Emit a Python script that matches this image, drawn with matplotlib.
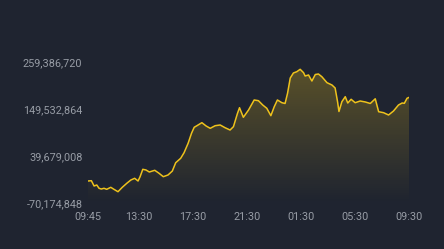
import numpy as np
import matplotlib
matplotlib.use('Agg')
import matplotlib.pyplot as plt
from matplotlib.colors import LinearSegmentedColormap

# minutes since 09:45 and value (millions)
minutes = [0, 15, 27, 39, 49, 59, 71, 83, 101, 115, 133, 152, 172, 190, 207,
           222, 231, 243, 257, 272, 296, 315, 334, 355, 374, 389, 411, 426,
           444, 459, 471, 483, 505, 524, 542, 564, 586, 608, 630, 645, 663,
           672, 689, 712, 737, 756, 775, 793, 811, 826, 840, 860, 874, 885,
           897, 911, 926, 941, 956, 963, 978, 993, 1008, 1022, 1037, 1060,
           1082, 1096, 1107, 1113, 1126, 1141, 1152, 1167, 1185, 1207, 1230,
           1252, 1274, 1289, 1311, 1333, 1355, 1377, 1393, 1403, 1415, 1425]
values_m = [-17.9, -17.2, -29.6, -27.3, -35.0, -36.7, -35.0, -37.4, -32.7,
            -37.4, -43.0, -32.7, -23.3, -15.6, -11.6, -17.9, -7.8, 9.5, 7.9,
            3.2, 7.2, 0.2, -7.8, -3.8, 5.5, 25.0, 35.3, 48.4, 70.5, 93.9,
            108.0, 111.7, 118.8, 111.0, 105.6, 111.7, 113.4, 107.0, 101.6,
            109.4, 140.8, 153.9, 131.4, 148.5, 172.0, 170.3, 160.2, 152.5,
            135.2, 156.3, 172.0, 165.6, 163.8, 187.7, 223.5, 235.3, 238.3,
            243.9, 236.0, 228.2, 230.6, 216.5, 231.7, 232.9, 226.6, 212.5,
            207.1, 200.1, 167.3, 145.0, 168.0, 179.7, 164.9, 173.6, 165.6,
            169.6, 167.3, 163.8, 174.8, 144.5, 142.2, 136.8, 146.2, 160.2,
            164.9, 164.2, 176.0, 178.3]

y_ticks = [-70174848, 39679008, 149532864, 259386720]
x_tick_pos = [0, 225, 465, 705, 945, 1185, 1425]
x_tick_labels = ['09:45', '13:30', '17:30', '21:30', '01:30', '05:30', '09:30']

BG = '#1f2430'
LINE = '#eec21c'
TXT = '#979ca5'

x = np.array(minutes, dtype=float)
y = np.array(values_m) * 1e6

plt.rcParams['font.family'] = ['Roboto', 'DejaVu Sans']

fig = plt.figure(figsize=(4.44, 2.49), dpi=100, facecolor=BG)
ax = fig.add_axes([88 / 444, 45.7 / 249, 321.3 / 444, 140.6 / 249])
ax.set_facecolor(BG)

y_min, y_max = y_ticks[0], y_ticks[-1]

# gradient fill under the line
cmap = LinearSegmentedColormap.from_list('g', [(0.94, 0.77, 0.10, 0.0),
                                               (0.94, 0.77, 0.10, 0.28)])
grad = np.linspace(0, 1, 256).reshape(-1, 1)
img = ax.imshow(grad, cmap=cmap, aspect='auto', origin='lower',
                extent=[x[0], x[-1], y_min, y.max()], zorder=1)
poly = ax.fill_between(x, y, y_min, color='none')
path = poly.get_paths()[0]
img.set_clip_path(path, transform=ax.transData)

ax.plot(x, y, color=LINE, lw=1.1, zorder=3, solid_joinstyle='round')

ax.set_xlim(x[0], x[-1])
ax.set_ylim(y_min, y_max)
ax.set_yticks(y_ticks)
ax.set_yticklabels(['{:,}'.format(v) for v in y_ticks])
ax.set_xticks(x_tick_pos)
ax.set_xticklabels(x_tick_labels)
ax.tick_params(colors=TXT, labelsize=7.8, length=0)
ax.tick_params(axis='y', pad=4)
ax.tick_params(axis='x', pad=6)
for s in ax.spines.values():
    s.set_visible(False)

fig.savefig('out.png', dpi=100, facecolor=BG)
